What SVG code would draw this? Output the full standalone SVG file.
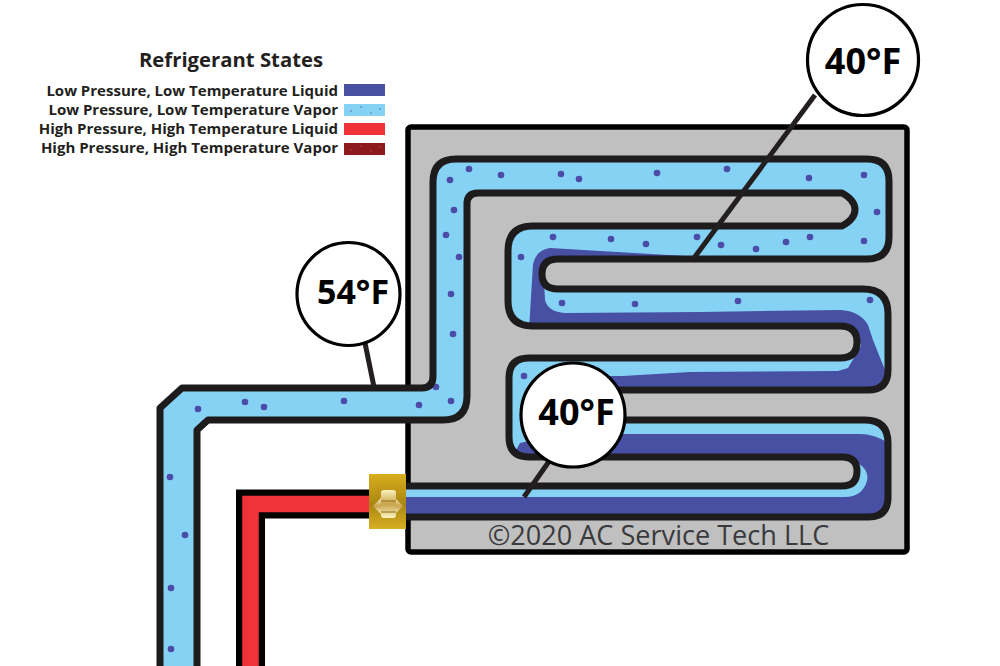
<svg xmlns="http://www.w3.org/2000/svg" width="1000" height="666" viewBox="0 0 1000 666">
<style>
.wall{fill:none;stroke:#1d1b1c;stroke-width:7;stroke-linejoin:round}
.vap{fill:#85d2f4}
.liq{fill:#4750a3}
.dots circle{fill:#4c4ca8;r:3.3px}
.lead{stroke:#231f20;stroke-width:5;fill:none}
.bub{fill:#fff;stroke:#000;stroke-width:3.200}
.tmp{font:700 36px "Open Sans","Liberation Sans",sans-serif;fill:#000;text-anchor:middle}
.leg{font:700 15px "Open Sans","Liberation Sans",sans-serif;fill:#231f20;text-anchor:end}
</style>
<defs>
<path id="tube" d="M160 680V408L182 388H422Q433 388 433 376V182Q433 159 456 159H867Q889 159 889 181V237Q889 259 867 259H558Q542 259 542 274Q542 289 558 289H863Q888 289 888 314V370Q888 390 868 390H556Q540 390 540 405Q540 420 556 420H865Q888 420 888 443V497Q888 517 868 517H400V486H842Q857 486 857 471Q857 457 842 457H529Q509 457 509 437V378Q509 358 529 358H840Q857 358 857 342Q857 326 840 326H533Q508 326 508 301V251Q508 226 533 226H842Q855 219 855 209.500Q855 200 842 193H478Q467 193 467 204V396Q467 420 443 420H208L197 430V680Z"/>
<clipPath id="inTube"><use href="#tube"/></clipPath>
<linearGradient id="gold" x1="0" y1="0" x2="0" y2="1">
<stop offset="0" stop-color="#d9ad1c"/><stop offset=".55" stop-color="#a98613"/><stop offset="1" stop-color="#d8af22"/>
</linearGradient>
<linearGradient id="brass" x1="0" y1="0" x2="0" y2="1">
<stop offset="0" stop-color="#fbf1bd"/><stop offset=".5" stop-color="#c9a44a"/><stop offset="1" stop-color="#fdf4c4"/>
</linearGradient>
</defs>
<g id="coil-box"><rect x="408" y="127" width="499" height="425" rx="3" fill="#c0c0c0" stroke="#000" stroke-width="5.500"/></g>
<g id="connectors">
<path d="M369 504H250.500V680" fill="none" stroke="#000" stroke-width="29"/>
<path d="M369 504H250.500V680" fill="none" stroke="#ef3338" stroke-width="16.500"/>
<use href="#tube" class="vap"/>
<g clip-path="url(#inTube)">
<path class="liq" d="M400 497H845Q862 497 867 481Q870 468 852 460H516L512 458L520 443L560 434H860Q878 434 895 448V525H400Z"/>
<path class="liq" d="M693 256.500L550 248Q536 250 533 264L529 330H845L858 335L861 346L848 368L838 371L690 372L623 376L590 376V394H892V370H885L873 340L868 325Q860 311 840 310L700 312L565 313Q548 312 545 300L543 262H693Z"/>
</g>
<g class="dots">
<circle cx="450" cy="180"/><circle cx="469" cy="169"/><circle cx="501" cy="175"/><circle cx="561" cy="174"/><circle cx="579" cy="179"/><circle cx="657" cy="173"/><circle cx="454" cy="210"/><circle cx="446" cy="235"/><circle cx="459" cy="257"/><circle cx="451" cy="294"/><circle cx="453" cy="334"/><circle cx="553" cy="237"/><circle cx="611" cy="239"/><circle cx="646" cy="244"/><circle cx="697" cy="237"/><circle cx="521" cy="257"/><circle cx="562" cy="303"/><circle cx="635" cy="304"/><circle cx="727" cy="169"/><circle cx="809" cy="178"/><circle cx="864" cy="175"/><circle cx="877" cy="212"/><circle cx="864" cy="241"/><circle cx="810" cy="237"/><circle cx="786" cy="242"/><circle cx="756" cy="249"/><circle cx="721" cy="245"/><circle cx="738" cy="301"/><circle cx="870" cy="300"/><circle cx="524" cy="376"/><circle cx="198" cy="409"/><circle cx="245" cy="402"/><circle cx="264" cy="407"/><circle cx="344" cy="401"/><circle cx="419" cy="405"/><circle cx="451" cy="401"/><circle cx="436" cy="387"/><circle cx="170" cy="477"/><circle cx="185" cy="535"/><circle cx="171" cy="588"/><circle cx="171" cy="649"/>
</g>
<use href="#tube" class="wall"/>
<path class="lead" d="M365 343L374 387"/>
<path class="lead" d="M815 95L694 258"/>
<path class="lead" d="M550 460L524 497"/>
</g>
<g id="fitting">
<rect x="369" y="474" width="37" height="55" fill="url(#gold)"/>
<path d="M373 506L381 498H395L403 506L395 514H381Z" fill="url(#brass)"/>
<rect x="381" y="490" width="15" height="28" rx="3" fill="url(#brass)"/>
<path d="M381 501H396M381 512H396" stroke="#8a6d1a" stroke-width="1"/>
</g>
<g id="temp-54"><circle class="bub" cx="348.500" cy="294" r="51.500"/><text class="tmp" x="353" y="304" style="font-size:34px">54°F</text></g>
<g id="temp-40-top"><circle class="bub" cx="863" cy="60" r="55.500"/><text class="tmp" x="863" y="74">40°F</text></g>
<g id="temp-40-bottom"><circle class="bub" cx="573" cy="415" r="52"/><text class="tmp" x="576.500" y="425">40°F</text></g>
<text x="658.500" y="545" text-anchor="middle" font-family="Open Sans, Liberation Sans, sans-serif" font-size="27.100" fill="#3a3a3c">©2020 AC Service Tech LLC</text>
<g id="legend">
<text x="231" y="67" text-anchor="middle" font-family="Open Sans, Liberation Sans, sans-serif" font-weight="700" font-size="20.300" fill="#231f20">Refrigerant States</text>
<text class="leg" x="338" y="96">Low Pressure, Low Temperature Liquid</text>
<text class="leg" x="338" y="115">Low Pressure, Low Temperature Vapor</text>
<text class="leg" x="338" y="134">High Pressure, High Temperature Liquid</text>
<text class="leg" x="338" y="153">High Pressure, High Temperature Vapor</text>
<rect x="344" y="84" width="41" height="12" fill="#4750a3"/>
<rect x="344" y="104" width="41" height="12" fill="#85d2f4"/>
<rect x="344" y="123" width="41" height="12" fill="#ef3338"/>
<rect x="344" y="143" width="41" height="12" fill="#8c1a1e"/>
<g fill="#4c4ca8"><circle cx="351" cy="111" r=".7"/><circle cx="361" cy="107" r=".7"/><circle cx="371" cy="113" r=".7"/><circle cx="380" cy="109" r=".7"/></g>
<g fill="#c9484c"><circle cx="351" cy="150" r=".7"/><circle cx="361" cy="146" r=".7"/><circle cx="371" cy="151" r=".7"/><circle cx="380" cy="147" r=".7"/></g>
</g>
</svg>
